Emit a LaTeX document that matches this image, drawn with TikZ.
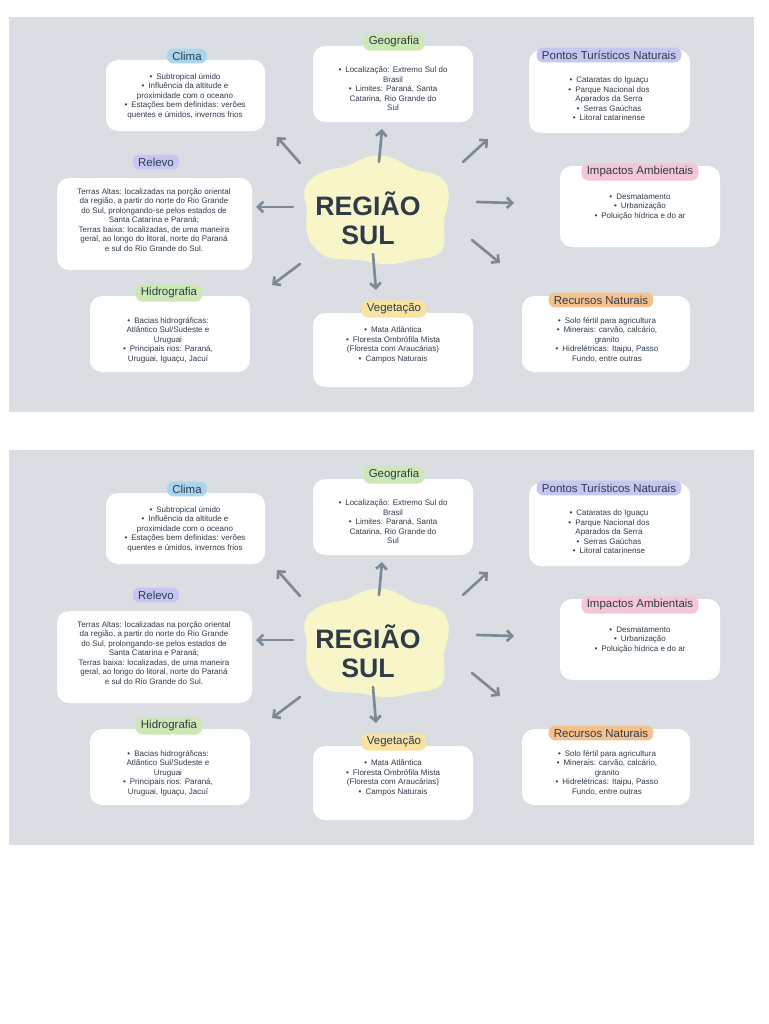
\documentclass[tikz,border=0pt]{standalone}
\usepackage{fontspec}
\setmainfont{Liberation Sans}
\usetikzlibrary{arrows.meta}
\definecolor{bgp}{HTML}{DADEE3}
\definecolor{ink}{HTML}{2F3B4A}
\definecolor{arr}{HTML}{7D8A96}
\definecolor{cblue}{HTML}{A9D6EE}
\definecolor{cgreen}{HTML}{CDE8B5}
\definecolor{clav}{HTML}{C5C6F2}
\definecolor{cpink}{HTML}{F5C6D6}
\definecolor{cyel}{HTML}{F8E3A3}
\definecolor{corg}{HTML}{F5C18E}
\definecolor{blob}{HTML}{F8F6C9}
\tikzset{
 card/.style={fill=white,rounded corners=9pt,draw=none},
 txt/.style={align=center,font=\fontsize{6}{7.1}\selectfont,text=ink},
 pill/.style={rounded corners=5pt,inner xsep=4pt,inner ysep=2.4pt,font=\fontsize{8.6}{9.5}\selectfont,text=ink},
 conn/.style={draw=arr,line width=2pt,-{Straight Barb[length=4pt,width=8pt]},line cap=round}
}
\newcommand{\bl}{\textbullet\enspace}
\begin{document}
\begin{tikzpicture}[x=0.75pt,y=-0.75pt]
\useasboundingbox[fill=white] (0,0) rectangle (768,1024);
\foreach \k/\dy in {a/0,b/433}{
\begin{scope}[shift={(0,\dy)}]
\fill[bgp] (9,17) rectangle (754,412);
\fill[blob] (368,157) .. controls (395,150) and (405,170) .. (425,172)
 .. controls (455,175) and (450,200) .. (445,215)
 .. controls (440,235) and (455,255) .. (425,258)
 .. controls (405,260) and (395,268) .. (370,262)
 .. controls (345,256) and (330,265) .. (315,248)
 .. controls (300,232) and (310,215) .. (305,200)
 .. controls (300,180) and (320,170) .. (340,168)
 .. controls (352,166) and (356,160) .. (368,157) -- cycle;
\node[font=\bfseries\fontsize{20}{22}\selectfont,text=ink,align=center] (c\k) at (368,218) {REGIÃO\\SUL};
\fill[card] (106,60) rectangle (265,131);
\node[txt] (clima\k) at (185,96) {\bl Subtropical úmido\\\bl Influência da altitude e\\proximidade com o oceano\\\bl Estações bem definidas: verões\\quentes e úmidos, invernos frios};
\node[pill,fill=cblue] at (187,56) {Clima};
\fill[card] (313,46) rectangle (473,122);
\node[txt] (geo\k) at (393,89) {\bl Localização: Extremo Sul do\\Brasil\\\bl Limites: Paraná, Santa\\Catarina, Rio Grande do\\Sul};
\node[pill,fill=cgreen] at (394,42) {Geografia};
\fill[card] (529,50) rectangle (690,133);
\node[txt] (pon\k) at (609,99) {\bl Cataratas do Iguaçu\\\bl Parque Nacional dos\\Aparados da Serra\\\bl Serras Gaúchas\\\bl Litoral catarinense};
\node[pill,fill=clav] at (609,55) {Pontos Turísticos Naturais};
\fill[card] (57,178) rectangle (252,270);
\node[txt] (rel\k) at (154,220) {Terras Altas: localizadas na porção oriental\\da região, a partir do norte do Rio Grande\\do Sul, prolongando-se pelos estados de\\Santa Catarina e Paraná;\\Terras baixa: localizadas, de uma maneira\\geral, ao longo do litoral, norte do Paraná\\e sul do Rio Grande do Sul.};
\node[pill,fill=clav] at (156,162) {Relevo};
\fill[card] (560,166) rectangle (720,247);
\node[txt] (imp\k) at (640,207) {\bl Desmatamento\\\bl Urbanização\\\bl Poluição hídrica e do ar};
\node[pill,fill=cpink] at (640,172) {Impactos Ambientais};
\fill[card] (90,296) rectangle (250,372);
\node[txt] (hid\k) at (168,340) {\bl Bacias hidrográficas:\\Atlântico Sul/Sudeste e\\Uruguai\\\bl Principais rios: Paraná,\\Uruguai, Iguaçu, Jacuí};
\node[pill,fill=cgreen] at (169,293) {Hidrografia};
\fill[card] (313,313) rectangle (473,387);
\node[txt] (veg\k) at (393,345) {\bl Mata Atlântica\\\bl Floresta Ombrófila Mista\\(Floresta com Araucárias)\\\bl Campos Naturais};
\node[pill,fill=cyel] at (394,309) {Vegetação};
\fill[card] (522,296) rectangle (690,372);
\node[txt] (rec\k) at (607,340) {\bl Solo fértil para agricultura\\\bl Minerais: carvão, calcário,\\granito\\\bl Hidrelétricas: Itaipu, Passo\\Fundo, entre outras};
\node[pill,fill=corg] at (601,300) {Recursos Naturais};
\coordinate (s1\k) at (300,163); \coordinate (e1\k) at (277,137);
\coordinate (s2\k) at (379,162); \coordinate (e2\k) at (382,129);
\coordinate (s3\k) at (463,162); \coordinate (e3\k) at (488,139);
\coordinate (s4\k) at (293,207); \coordinate (e4\k) at (256,207);
\coordinate (s5\k) at (477,202); \coordinate (e5\k) at (514,203);
\coordinate (s6\k) at (300,264); \coordinate (e6\k) at (272,285);
\coordinate (s7\k) at (373,254); \coordinate (e7\k) at (376,290);
\coordinate (s8\k) at (472,240); \coordinate (e8\k) at (500,263);
\foreach \j in {1,...,8}{\draw[conn] (s\j\k) -- (e\j\k);}
\end{scope}}
\end{tikzpicture}
\end{document}
